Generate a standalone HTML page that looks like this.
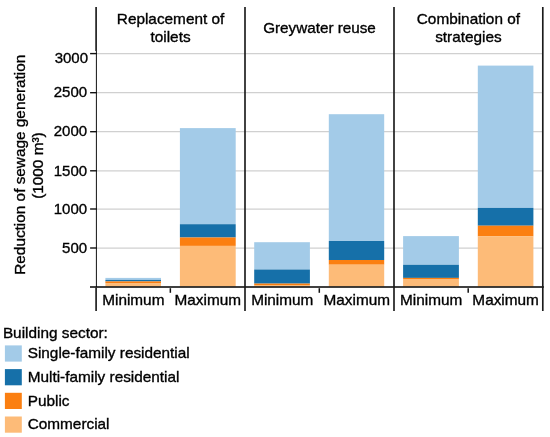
<!DOCTYPE html>
<html lang="en"><head><meta charset="utf-8"><title>Reduction of sewage generation</title>
<style>html,body{margin:0;padding:0;background:#fff}body{width:550px;height:437px;overflow:hidden}svg{display:block}text{font-family:"Liberation Sans",Arial,Helvetica,sans-serif;font-size:15.35px;fill:#000;stroke:#000;stroke-width:0.35px}</style></head><body>
<svg width="550" height="437" viewBox="0 0 550 437">
<rect width="550" height="437" fill="#fff"/>
<g stroke="#d0d0d0" stroke-width="1.25">
<line x1="96.5" x2="543" y1="53.60" y2="53.60"/>
<line x1="96.5" x2="543" y1="92.70" y2="92.70"/>
<line x1="96.5" x2="543" y1="131.70" y2="131.70"/>
<line x1="96.5" x2="543" y1="170.80" y2="170.80"/>
<line x1="96.5" x2="543" y1="209.00" y2="209.00"/>
<line x1="96.5" x2="543" y1="248.00" y2="248.00"/>
</g>
<rect x="105.40" y="277.90" width="55.60" height="2.00" fill="#a3cbe8"/>
<rect x="105.40" y="279.90" width="55.60" height="1.50" fill="#1670a9"/>
<rect x="105.40" y="281.40" width="55.60" height="1.65" fill="#fb7f11"/>
<rect x="105.40" y="283.05" width="55.60" height="3.45" fill="#fdbb78"/>
<rect x="179.90" y="128.10" width="55.80" height="96.10" fill="#a3cbe8"/>
<rect x="179.90" y="224.20" width="55.80" height="13.30" fill="#1670a9"/>
<rect x="179.90" y="237.50" width="55.80" height="8.40" fill="#fb7f11"/>
<rect x="179.90" y="245.90" width="55.80" height="40.60" fill="#fdbb78"/>
<rect x="254.20" y="242.20" width="55.70" height="27.30" fill="#a3cbe8"/>
<rect x="254.20" y="269.50" width="55.70" height="14.10" fill="#1670a9"/>
<rect x="254.20" y="283.60" width="55.70" height="1.40" fill="#fb7f11"/>
<rect x="254.20" y="285.00" width="55.70" height="1.50" fill="#fdbb78"/>
<rect x="328.80" y="114.20" width="55.40" height="126.80" fill="#a3cbe8"/>
<rect x="328.80" y="241.00" width="55.40" height="19.00" fill="#1670a9"/>
<rect x="328.80" y="260.00" width="55.40" height="4.70" fill="#fb7f11"/>
<rect x="328.80" y="264.70" width="55.40" height="21.80" fill="#fdbb78"/>
<rect x="403.10" y="236.10" width="55.80" height="28.70" fill="#a3cbe8"/>
<rect x="403.10" y="264.80" width="55.80" height="13.10" fill="#1670a9"/>
<rect x="403.10" y="277.90" width="55.80" height="1.10" fill="#fb7f11"/>
<rect x="403.10" y="279.00" width="55.80" height="7.50" fill="#fdbb78"/>
<rect x="477.80" y="65.60" width="55.60" height="142.30" fill="#a3cbe8"/>
<rect x="477.80" y="207.90" width="55.60" height="17.80" fill="#1670a9"/>
<rect x="477.80" y="225.70" width="55.60" height="10.70" fill="#fb7f11"/>
<rect x="477.80" y="236.40" width="55.60" height="50.10" fill="#fdbb78"/>
<line x1="96.45" x2="96.45" y1="51" y2="287" stroke="#2a2a2a" stroke-width="1.15"/>
<g stroke="#111" stroke-width="1.4">
<line x1="90.1" x2="97" y1="53.60" y2="53.60"/>
<line x1="90.1" x2="97" y1="92.70" y2="92.70"/>
<line x1="90.1" x2="97" y1="131.70" y2="131.70"/>
<line x1="90.1" x2="97" y1="170.80" y2="170.80"/>
<line x1="90.1" x2="97" y1="209.00" y2="209.00"/>
<line x1="90.1" x2="97" y1="248.00" y2="248.00"/>
</g>
<line x1="90" x2="543.9" y1="286.95" y2="286.95" stroke="#000" stroke-width="1.5"/>
<line x1="170.35" x2="170.35" y1="288.2" y2="292.8" stroke="#111" stroke-width="1.5"/>
<line x1="319.30" x2="319.30" y1="288.2" y2="292.8" stroke="#111" stroke-width="1.5"/>
<line x1="468.20" x2="468.20" y1="288.2" y2="292.8" stroke="#111" stroke-width="1.5"/>
<g stroke="#1a1a1a" stroke-width="1.65">
<line x1="96.10" x2="96.10" y1="7" y2="51"/>
<line x1="96.10" x2="96.10" y1="287.5" y2="311"/>
<line x1="245.00" x2="245.00" y1="7" y2="311"/>
<line x1="394.00" x2="394.00" y1="7" y2="311"/>
<line x1="542.80" x2="542.80" y1="7" y2="311"/>
</g>
<text x="88.00" y="63.40" text-anchor="end" style="font-size:15px">3000</text>
<text x="87.10" y="97.40" text-anchor="end" style="font-size:15px">2500</text>
<text x="87.10" y="136.40" text-anchor="end" style="font-size:15px">2000</text>
<text x="87.10" y="175.50" text-anchor="end" style="font-size:15px">1500</text>
<text x="87.10" y="213.70" text-anchor="end" style="font-size:15px">1000</text>
<text x="87.10" y="252.70" text-anchor="end" style="font-size:15px">500</text>
<text x="170.55" y="23.7" text-anchor="middle">Replacement of</text>
<text x="170.55" y="41.9" text-anchor="middle">toilets</text>
<text x="319.50" y="33.3" text-anchor="middle" style="font-size:15.25px">Greywater reuse</text>
<text x="468.40" y="23.7" text-anchor="middle">Combination of</text>
<text x="468.40" y="41.9" text-anchor="middle">strategies</text>
<text x="133.32" y="305.1" text-anchor="middle">Minimum</text>
<text x="207.78" y="305.1" text-anchor="middle">Maximum</text>
<text x="282.25" y="305.1" text-anchor="middle">Minimum</text>
<text x="356.75" y="305.1" text-anchor="middle">Maximum</text>
<text x="431.20" y="305.1" text-anchor="middle">Minimum</text>
<text x="505.60" y="305.1" text-anchor="middle">Maximum</text>
<text transform="translate(24.5,164.7) rotate(-90)" text-anchor="middle">Reduction of sewage generation</text>
<text transform="translate(42.9,165.6) rotate(-90)" text-anchor="middle">(1000 m³)</text>
<text x="2.9" y="338.4">Building sector:</text>
<rect x="4.9" y="345.40" width="16.9" height="16.2" fill="#a3cbe8"/>
<text x="27.7" y="358.40">Single-family residential</text>
<rect x="4.9" y="369.10" width="16.9" height="16.2" fill="#1670a9"/>
<text x="27.7" y="382.07">Multi-family residential</text>
<rect x="4.9" y="392.80" width="16.9" height="16.2" fill="#fb7f11"/>
<text x="27.7" y="405.74">Public</text>
<rect x="4.9" y="416.50" width="16.9" height="16.2" fill="#fdbb78"/>
<text x="27.7" y="429.41">Commercial</text>
</svg></body></html>
